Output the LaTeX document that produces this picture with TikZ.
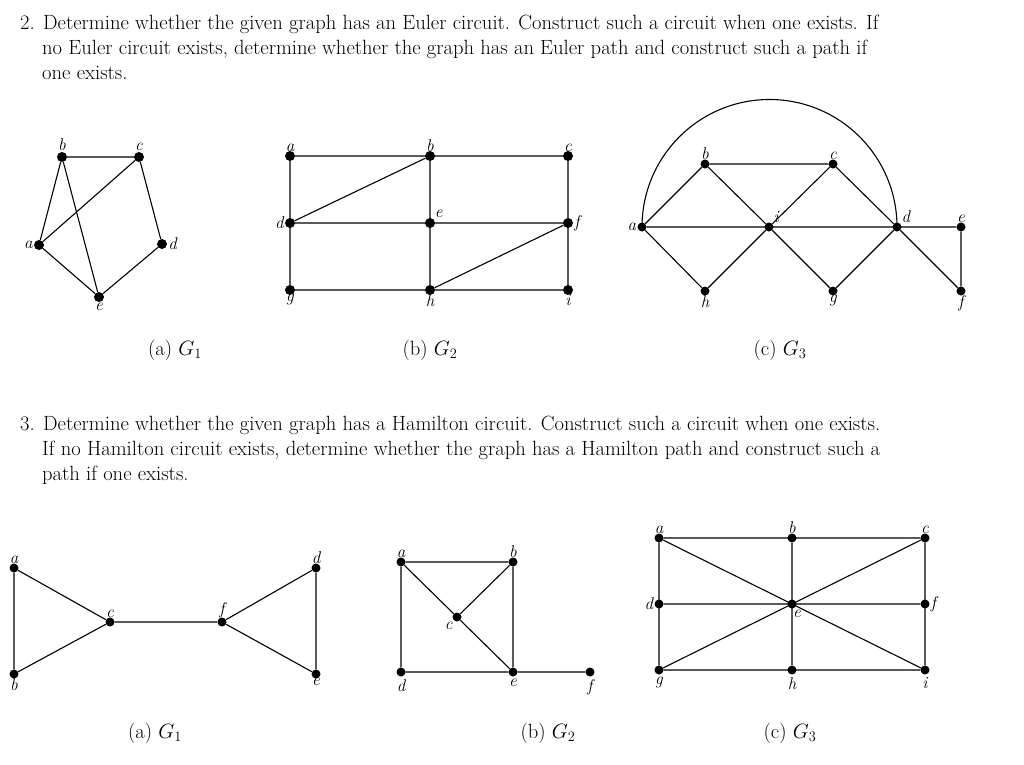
\documentclass[tikz,border=0pt]{standalone}
\begin{document}
\begin{tikzpicture}[x=1pt,y=-1pt,
 v/.style={circle,fill=black,inner sep=0pt,minimum size=10pt},
 lb/.style={font=\fontsize{17}{17}\selectfont\itshape,inner sep=1pt},
 tx/.style={anchor=base west,font=\fontsize{20.6}{24}\selectfont,inner sep=0pt},
 capt/.style={font=\fontsize{20.6}{24}\selectfont,inner sep=0pt},
 e/.style={line width=1.1pt}]
\useasboundingbox (0,0) rectangle (1024,764);
\node[tx] (t1) at (20,29) {2. Determine whether the given graph has an Euler circuit. Construct such a circuit when one exists. If};
\node[tx] (t2) at (42,54) {no Euler circuit exists, determine whether the graph has an Euler path and construct such a path if};
\node[tx] (t3) at (42,79) {one exists.};
\node[tx] (t4) at (20,430) {3. Determine whether the given graph has a Hamilton circuit. Construct such a circuit when one exists.};
\node[tx] (t5) at (42,455) {If no Hamilton circuit exists, determine whether the graph has a Hamilton path and construct such a};
\node[tx] (t6) at (42,480) {path if one exists.};
\node[capt] (c1) at (175,350) {(a) $G_1$};
\node[capt] (c2) at (430,350) {(b) $G_2$};
\node[capt] (c3) at (780,350) {(c) $G_3$};
\node[capt] (c4) at (155,733) {(a) $G_1$};
\node[capt] (c5) at (548,733) {(b) $G_2$};
\node[capt] (c6) at (790,733) {(c) $G_3$};
% top G1
\node[v] (Aa) at (39,245) {}; \node[lb,left] at (Aa.west) {a};
\node[v] (Ab) at (62,157) {}; \node[lb,above] at (Ab.north) {b};
\node[v] (Ac) at (139,157) {}; \node[lb,above] at (Ac.north) {c};
\node[v] (Ad) at (162,244) {}; \node[lb,right] at (Ad.east) {d};
\node[v] (Ae) at (99,297) {}; \node[lb,below] at (Ae.south) {e};
\draw[e] (Ab)--(Ac) (Ab)--(Aa) (Ab)--(Ae) (Aa)--(Ac) (Ac)--(Ad) (Aa)--(Ae) (Ae)--(Ad);
% top G2
\foreach \n/\x/\y in {a/290/156,b/430/156,c/568/156,d/290/223,e/430/223,f/568/223,g/290/290,h/430/290,i/568/290}
  \node[v] (B\n) at (\x,\y) {};
\node[lb,above=3pt] at (Ba) {a}; \node[lb,above=3pt] at (Bb) {b}; \node[lb,above=3pt] at (Bc) {c};
\node[lb,left] at (Bd.west) {d}; \node[lb,above right] at (Be.north east) {e}; \node[lb,right] at (Bf.east) {f};
\node[lb,below=3pt] at (Bg) {g}; \node[lb,below=3pt] at (Bh) {h}; \node[lb,below=3pt] at (Bi) {i};
\draw[e] (Ba)--(Bc) (Bd)--(Bf) (Bg)--(Bi) (Ba)--(Bg) (Bb)--(Bh) (Bc)--(Bi) (Bd)--(Bb) (Bh)--(Bf);
% top G3
\foreach \n/\x/\y in {a/642/227,b/705/164,c/833/164,i/769/227,d/897/227,e/961/227,h/705/291,g/833/291,f/961/291}
  \node[v,minimum size=9pt] (C\n) at (\x,\y) {};
\node[lb,left] at (Ca.west) {a}; \node[lb,above=3pt] at (Cb) {b}; \node[lb,above=3pt] at (Cc) {c};
\node[lb,above right] at (Ci.north east) {i}; \node[lb,above right] at (Cd.north east) {d}; \node[lb,above=3pt] at (Ce) {e};
\node[lb,below=3pt] at (Ch) {h}; \node[lb,below=3pt] at (Cg) {g}; \node[lb,below=3pt] at (Cf) {f};
\draw[e] (Ca)--(Ce) (Cb)--(Cc) (Ca)--(Cb)--(Ci)--(Cc)--(Cd) (Ca)--(Ch)--(Ci)--(Cg)--(Cd)--(Cf)--(Ce);
\draw[e] (Ca.center) arc[start angle=-180,end angle=0,radius=127.5];
% bottom G1
\foreach \n/\x/\y in {a/14/568,b/14/674,c/110/622,f/222/622,d/316/568,e/316/674}
  \node[v,minimum size=9pt] (D\n) at (\x,\y) {};
\node[lb,above=3pt] at (Da) {a}; \node[lb,below=3pt] at (Db) {b}; \node[lb,above=3pt] at (Dc) {c};
\node[lb,above=3pt] at (Df) {f}; \node[lb,above=3pt] at (Dd) {d}; \node[lb,below=3pt] at (De) {e};
\draw[e] (Da)--(Db)--(Dc)--(Da) (Dc)--(Df) (Dd)--(De)--(Df)--(Dd);
% bottom G2
\foreach \n/\x/\y in {a/401/562,b/513/562,c/457/617,d/401/672,e/513/672,f/590/672}
  \node[v,minimum size=9pt] (E\n) at (\x,\y) {};
\node[lb,above=3pt] at (Ea) {a}; \node[lb,above=3pt] at (Eb) {b}; \node[lb,below left] at (Ec.south west) {c};
\node[lb,below=6pt] at (Ed) {d}; \node[lb,below=6pt] at (Ee) {e}; \node[lb,below=6pt] at (Ef) {f};
\draw[e] (Ea)--(Eb)--(Ee)--(Ed)--(Ea) (Ea)--(Ec)--(Ee) (Ec)--(Eb) (Ee)--(Ef);
% bottom G3
\foreach \n/\x/\y in {a/659/538,b/792/538,c/925/538,d/659/604,e/792/604,f/925/604,g/659/670,h/792/670,i/925/670}
  \node[v,minimum size=9pt] (F\n) at (\x,\y) {};
\node[lb,above=3pt] at (Fa) {a}; \node[lb,above=3pt] at (Fb) {b}; \node[lb,above=3pt] at (Fc) {c};
\node[lb,left] at (Fd.west) {d}; \node[lb,below right] at (Fe.south) {e}; \node[lb,right] at (Ff.east) {f};
\node[lb,below=6pt] at (Fg) {g}; \node[lb,below=6pt] at (Fh) {h}; \node[lb,below=6pt] at (Fi) {i};
\draw[e] (Fa)--(Fc) (Fd)--(Ff) (Fg)--(Fi) (Fa)--(Fg) (Fb)--(Fh) (Fc)--(Fi) (Fa)--(Fi) (Fc)--(Fg);
\end{tikzpicture}
\end{document}
